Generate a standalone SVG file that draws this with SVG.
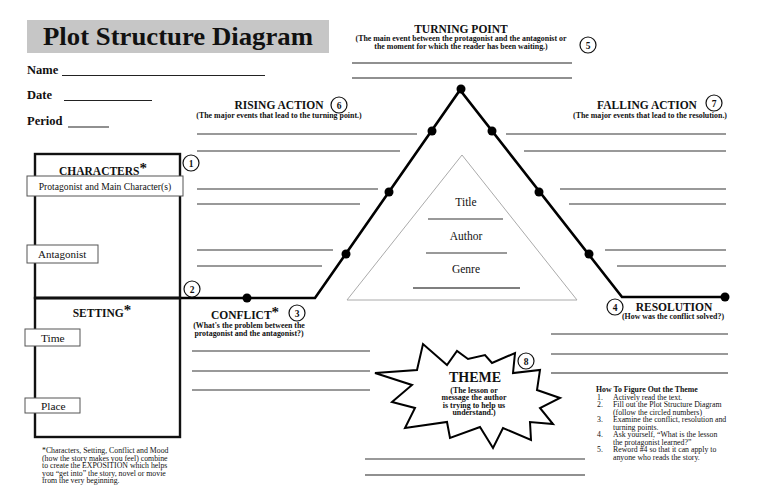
<svg xmlns="http://www.w3.org/2000/svg" width="768" height="503" viewBox="0 0 768 503" font-family="'Liberation Serif','DejaVu Serif',serif">
<style>
text{font-family:"Liberation Serif","DejaVu Serif",serif;fill:#111}
.b{font-weight:bold}
.h{font-weight:bold;font-size:11.5px}
.sub{font-weight:bold;font-size:7.9px}
.ln{stroke:#777;stroke-width:1.3;fill:none}
.dk{stroke:#222;stroke-width:1.2;fill:none}
.num{fill:#fff;stroke:#111;stroke-width:1.2}
.nt{font-weight:bold;font-size:9.5px;text-anchor:middle}
.lbl{fill:#fff;stroke:#555;stroke-width:1}
.dot{fill:#000}
.c{text-anchor:middle}
.sm{font-size:7.8px}
</style>
<rect width="768" height="503" fill="#fff"/>

<g id="header">
<rect x="27" y="20" width="302" height="33" fill="#c6c6c6"/>
<text x="178" y="45" class="b c" font-size="25" textLength="270" lengthAdjust="spacingAndGlyphs">Plot Structure Diagram</text>
<text x="27" y="74" class="b" font-size="12.5">Name</text>
<line x1="62" y1="75.5" x2="265" y2="75.5" class="dk"/>
<text x="27" y="99" class="b" font-size="12.5">Date</text>
<line x1="64" y1="100.5" x2="152" y2="100.5" class="dk"/>
<text x="27" y="125" class="b" font-size="12.5">Period</text>
<line x1="68" y1="127" x2="109" y2="127" class="dk"/>
</g>

<g id="connectors">
<polyline points="35,298 315,298 460,90 622,297 725,297" fill="none" stroke="#000" stroke-width="2.6" stroke-linejoin="miter"/>
<circle cx="247" cy="298" r="4.5" class="dot"/>
<circle cx="346" cy="254" r="4.5" class="dot"/>
<circle cx="389" cy="192" r="4.5" class="dot"/>
<circle cx="432" cy="131" r="4.5" class="dot"/>
<circle cx="461" cy="89" r="4.5" class="dot"/>
<circle cx="492" cy="131" r="4.5" class="dot"/>
<circle cx="539" cy="192" r="4.5" class="dot"/>
<circle cx="589" cy="254" r="4.5" class="dot"/>
<circle cx="725" cy="297" r="4.5" class="dot"/>
</g>

<g id="turning-point">
<text x="461" y="33" class="h c">TURNING POINT</text>
<text x="461" y="41" class="sub c">(The main event between the protagonist and the antagonist or</text>
<text x="461" y="48.5" class="sub c">the moment for which the reader has been waiting.)</text>
<circle cx="588" cy="45" r="8" class="num"/><text x="588" y="48.5" class="nt">5</text>
<line x1="352" y1="63" x2="572" y2="63" class="dk"/>
<line x1="352" y1="78" x2="572" y2="78" class="dk"/>
</g>

<g id="rising-action">
<text x="279" y="109" class="h c">RISING ACTION</text>
<circle cx="339" cy="105" r="8" class="num"/><text x="339" y="108.5" class="nt">6</text>
<text x="279" y="118" class="sub c">(The major events that lead to the turning point.)</text>
<line x1="197" y1="134" x2="417" y2="134" class="ln"/>
<line x1="197" y1="151" x2="400" y2="151" class="ln"/>
<line x1="197" y1="189" x2="378" y2="189" class="ln"/>
<line x1="197" y1="204" x2="360" y2="204" class="ln"/>
<line x1="197" y1="250" x2="333" y2="250" class="ln"/>
<line x1="197" y1="266" x2="322" y2="266" class="ln"/>
</g>

<g id="falling-action">
<text x="647" y="109" class="h c">FALLING ACTION</text>
<circle cx="714" cy="103" r="8" class="num"/><text x="714" y="106.5" class="nt">7</text>
<text x="650" y="118" class="sub c">(The major events that lead to the resolution.)</text>
<line x1="506" y1="134" x2="726" y2="134" class="ln"/>
<line x1="524" y1="151" x2="726" y2="151" class="ln"/>
<line x1="560" y1="189" x2="726" y2="189" class="ln"/>
<line x1="569" y1="204" x2="726" y2="204" class="ln"/>
<line x1="605" y1="250" x2="726" y2="250" class="ln"/>
<line x1="617" y1="266" x2="726" y2="266" class="ln"/>
</g>

<g id="title-triangle">
<polygon points="462,155 347,300 577,300" fill="none" stroke="#aaa" stroke-width="1"/>
<text x="466" y="206" class="c" font-size="11.5">Title</text>
<line x1="428" y1="219" x2="503" y2="219" class="ln"/>
<text x="466" y="240" class="c" font-size="11.5">Author</text>
<line x1="426" y1="253" x2="507" y2="253" class="ln"/>
<text x="466" y="273" class="c" font-size="11.5">Genre</text>
<line x1="413" y1="288" x2="520" y2="288" stroke="#555" stroke-width="1.6"/>
</g>

<g id="characters">
<rect x="35" y="154" width="145" height="144" fill="none" stroke="#111" stroke-width="2.4"/>
<text x="103" y="175" class="h c">CHARACTERS<tspan font-size="15" dy="-2">*</tspan></text>
<circle cx="191" cy="163" r="8" class="num"/><text x="191" y="166.5" class="nt">1</text>
<rect x="27" y="176" width="156" height="20" class="lbl"/>
<text x="105" y="189.5" class="c" font-size="9.6">Protagonist and Main Character(s)</text>
<rect x="27" y="245" width="71" height="18" class="lbl"/>
<text x="38" y="258" font-size="11">Antagonist</text>
<circle cx="192" cy="289" r="8" class="num"/><text x="192" y="292.5" class="nt">2</text>
</g>

<g id="setting">
<rect x="35" y="298" width="145" height="139" fill="none" stroke="#111" stroke-width="2.4"/>
<text x="102" y="317" class="h c">SETTING<tspan font-size="15" dy="-2">*</tspan></text>
<rect x="25" y="329" width="55" height="17" class="lbl"/>
<text x="41" y="342" font-size="11.4">Time</text>
<rect x="25" y="398" width="55" height="15" class="lbl"/>
<text x="41" y="410" font-size="11.4">Place</text>
<text x="42" y="453" class="sm">*Characters, Setting, Conflict and Mood</text>
<text x="42" y="460.5" class="sm">(how the story makes you feel) combine</text>
<text x="42" y="468" class="sm">to create the EXPOSITION which helps</text>
<text x="42" y="475.5" class="sm">you “get into” the story, novel or movie</text>
<text x="42" y="483" class="sm">from the very beginning.</text>
</g>

<g id="conflict">
<text x="245" y="319" class="h c">CONFLICT<tspan font-size="15" dy="-2">*</tspan></text>
<circle cx="297" cy="313" r="8" class="num"/><text x="297" y="316.5" class="nt">3</text>
<text x="249" y="328" class="sub c">(What's the problem between the</text>
<text x="249" y="335.5" class="sub c">protagonist and the antagonist?)</text>
<line x1="192" y1="351" x2="370" y2="351" class="ln"/>
<line x1="192" y1="371" x2="370" y2="371" class="ln"/>
<line x1="192" y1="390" x2="370" y2="390" class="ln"/>
</g>

<g id="resolution">
<circle cx="615" cy="307" r="8" class="num"/><text x="615" y="310.5" class="nt">4</text>
<text x="674" y="311" class="h c">RESOLUTION</text>
<text x="673" y="319" class="sub c">(How was the conflict solved?)</text>
<line x1="551" y1="334" x2="728" y2="334" class="ln"/>
<line x1="551" y1="354" x2="728" y2="354" class="ln"/>
<line x1="551" y1="373" x2="728" y2="373" class="dk"/>
</g>

<g id="theme">
<polygon points="375,373 417,370 423,344 447,365 457,351 468,359 485,355 492,363 515,353 513,373 540,370 537,390 560,398 540,408 553,424 530,422 531,440 503,428 493,448 480,427 450,438 447,422 405,428 415,408 392,402 412,385" fill="#fff" stroke="#000" stroke-width="2" stroke-linejoin="miter"/>
<text x="475" y="382" class="b c" font-size="14">THEME</text>
<text x="474" y="392.5" class="sub c" font-size="7.4">(The lesson or</text>
<text x="474" y="400" class="sub c" font-size="7.4">message the author</text>
<text x="474" y="407.5" class="sub c" font-size="7.4">is trying to help us</text>
<text x="474" y="415" class="sub c" font-size="7.4">understand.)</text>
<circle cx="526" cy="361" r="8" class="num"/><text x="526" y="364.5" class="nt">8</text>
<line x1="365" y1="459" x2="585" y2="459" class="ln"/>
<line x1="365" y1="475" x2="585" y2="475" class="dk"/>
</g>

<g id="how-to">
<text x="596" y="392" class="b sm">How To Figure Out the Theme</text>
<text x="597" y="399.5" class="sm">1.</text><text x="613" y="399.5" class="sm">Actively read the text.</text>
<text x="597" y="407" class="sm">2.</text><text x="613" y="407" class="sm">Fill out the Plot Structure Diagram</text>
<text x="613" y="414.5" class="sm">(follow the circled numbers)</text>
<text x="597" y="422" class="sm">3.</text><text x="613" y="422" class="sm">Examine the conflict, resolution and</text>
<text x="613" y="429.5" class="sm">turning points.</text>
<text x="597" y="437" class="sm">4.</text><text x="613" y="437" class="sm">Ask yourself, “What is the lesson</text>
<text x="613" y="444.5" class="sm">the protagonist learned?”</text>
<text x="597" y="452" class="sm">5.</text><text x="613" y="452" class="sm">Reword #4 so that it can apply to</text>
<text x="613" y="459.5" class="sm">anyone who reads the story.</text>
</g>
</svg>
